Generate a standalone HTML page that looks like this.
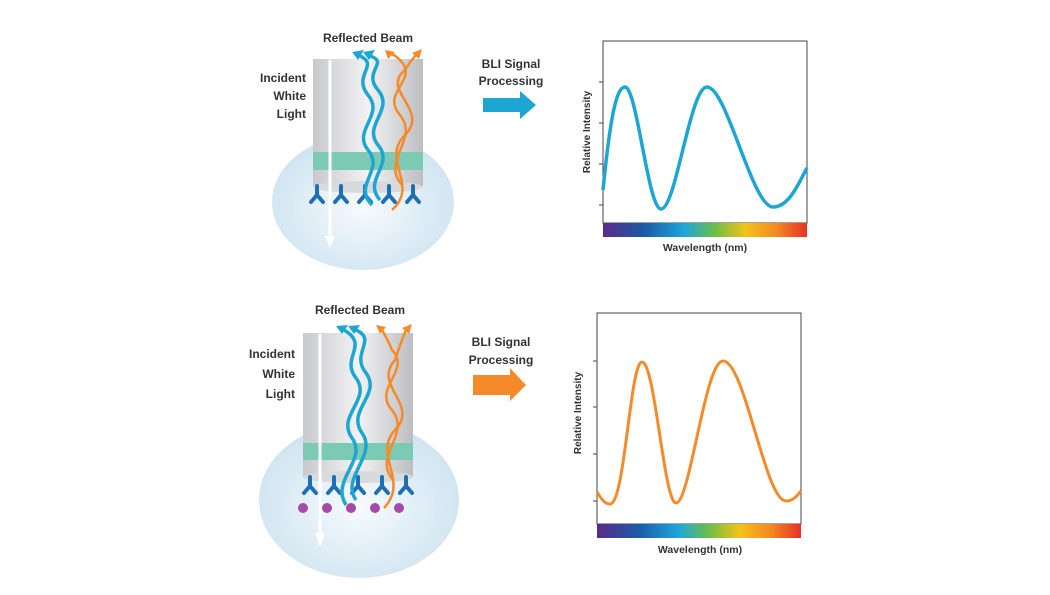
<!DOCTYPE html>
<html><head><style>
body{margin:0;background:#fff}
svg text{font-family:"Liberation Sans",sans-serif;font-weight:bold;fill:#333}
</style></head><body>
<svg width="1050" height="590" viewBox="0 0 1050 590">
<defs>
<linearGradient id="spec" x1="0" x2="1">
<stop offset="0" stop-color="#5b2a8a"/><stop offset="0.2" stop-color="#1b5aa6"/><stop offset="0.4" stop-color="#1ea6dc"/><stop offset="0.55" stop-color="#6cbf45"/><stop offset="0.7" stop-color="#f5c218"/><stop offset="0.85" stop-color="#f38a20"/><stop offset="1" stop-color="#e8302a"/>
</linearGradient>
<radialGradient id="ell" cx="0.5" cy="0.55" r="0.55"><stop offset="0" stop-color="#f6fafd"/><stop offset="1" stop-color="#cfe4f0"/></radialGradient>
<linearGradient id="cyl" x1="0" x2="1"><stop offset="0" stop-color="#c8c9cc"/><stop offset="0.5" stop-color="#f2f2f3"/><stop offset="1" stop-color="#bdbec2"/></linearGradient>
<g id="ab" fill="none" stroke="#1f6fb5" stroke-width="4" stroke-linecap="round"><path d="M0,0 V9 M0,9 L-6,16 M0,9 L6,16"/></g>
</defs>

<!-- TOP ILLUSTRATION -->
<ellipse cx="363" cy="202" rx="91" ry="68" fill="url(#ell)"/>
<rect x="313" y="59" width="110" height="128" fill="url(#cyl)"/>
<rect x="313" y="152" width="110" height="18" fill="#7ccab3"/>
<ellipse cx="368" cy="187" rx="55" ry="6" fill="#d9dadc"/>
<g transform="translate(317,186)"><use href="#ab" x="0"/><use href="#ab" x="24"/><use href="#ab" x="48"/><use href="#ab" x="72"/><use href="#ab" x="96"/></g>
<line x1="330" y1="60" x2="330" y2="238" stroke="#fff" stroke-width="3"/>
<polygon points="325,236 335,236 330,248" fill="#fff"/>
<path d="M372,205 C352,185 385,170 368,150 C352,130 385,115 368,95 C352,75 380,65 360,56" fill="none" stroke="#1ea6d2" stroke-width="3.5"/>
<path d="M380,200 C362,180 395,165 378,145 C362,125 395,110 378,90 C362,72 390,62 370,56" fill="none" stroke="#1ea6d2" stroke-width="3.5"/>
<polygon points="352,52 364,50 358,60" fill="#1ea6d2"/><polygon points="363,52 375,50 369,60" fill="#1ea6d2"/>
<path d="M392,210 C420,185 380,160 405,135 C430,110 380,90 405,70 C410,62 413,58 417,54" fill="none" stroke="#f58a2a" stroke-width="2.5"/>
<path d="M402,185 C380,160 420,140 400,115 C380,92 420,80 400,60 C396,56 393,54 390,54" fill="none" stroke="#f58a2a" stroke-width="2.5"/>
<polygon points="385,50 395,52 388,59" fill="#f58a2a"/><polygon points="422,49 419,59 412,53" fill="#f58a2a"/>
<text x="368" y="42" font-size="12" text-anchor="middle">Reflected Beam</text>
<text x="306" y="82" font-size="12" text-anchor="end">Incident</text>
<text x="306" y="100" font-size="12" text-anchor="end">White</text>
<text x="306" y="118" font-size="12" text-anchor="end">Light</text>
<text x="511" y="68" font-size="12" text-anchor="middle">BLI Signal</text>
<text x="511" y="85" font-size="12" text-anchor="middle">Processing</text>
<polygon points="483,98 520,98 520,91 536,105 520,119 520,112 483,112" fill="#1ea6d2"/>

<!-- TOP CHART -->
<rect x="603" y="41" width="204" height="182" fill="none" stroke="#444" stroke-width="1"/>
<rect x="603" y="223" width="204" height="14" fill="url(#spec)"/>
<g stroke="#444"><line x1="599" y1="82" x2="603" y2="82"/><line x1="599" y1="123" x2="603" y2="123"/><line x1="599" y1="164" x2="603" y2="164"/><line x1="599" y1="205" x2="603" y2="205"/></g>
<path d="M603,190 C610,120 616,87 625,87 C637,87 648,209 661,209 C676,209 690,87 707,87 C727,87 752,207 773,207 C790,207 800,180 807,168" fill="none" stroke="#1ea6d2" stroke-width="3.5"/>
<text transform="translate(590,132) rotate(-90)" font-size="10" text-anchor="middle">Relative Intensity</text>
<text x="705" y="251" font-size="10.5" text-anchor="middle">Wavelength (nm)</text>

<!-- BOTTOM ILLUSTRATION -->
<ellipse cx="359" cy="500" rx="100" ry="78" fill="url(#ell)"/>
<rect x="303" y="333" width="110" height="144" fill="url(#cyl)"/>
<rect x="303" y="443" width="110" height="17" fill="#7ccab3"/>
<ellipse cx="358" cy="477" rx="55" ry="6" fill="#d9dadc"/>
<g transform="translate(310,477)"><use href="#ab" x="0"/><use href="#ab" x="24"/><use href="#ab" x="48"/><use href="#ab" x="72"/><use href="#ab" x="96"/></g>
<g fill="#a64aa8"><circle cx="303" cy="508" r="5"/><circle cx="327" cy="508" r="5"/><circle cx="351" cy="508" r="5"/><circle cx="375" cy="508" r="5"/><circle cx="399" cy="508" r="5"/></g>
<line x1="320" y1="334" x2="320" y2="535" stroke="#fff" stroke-width="3"/>
<polygon points="315,533 325,533 320,547 " fill="#fff"/>
<path d="M346,505 C330,480 368,460 352,438 C336,415 372,400 356,378 C340,358 370,345 344,330" fill="none" stroke="#1ea6d2" stroke-width="3.5"/>
<path d="M356,500 C340,478 378,455 362,433 C346,410 382,395 366,373 C350,353 378,340 356,330" fill="none" stroke="#1ea6d2" stroke-width="3.5"/>
<polygon points="336,326 348,325 342,334" fill="#1ea6d2"/><polygon points="348,326 360,325 354,334" fill="#1ea6d2"/>
<path d="M384,508 C410,480 372,455 395,430 C420,405 372,385 395,360 C400,345 403,337 406,330" fill="none" stroke="#f58a2a" stroke-width="2.5"/>
<path d="M393,480 C372,455 412,435 392,410 C372,388 412,370 392,350 C388,340 385,335 382,330" fill="none" stroke="#f58a2a" stroke-width="2.5"/>
<polygon points="376,325 386,327 380,334" fill="#f58a2a"/><polygon points="412,324 409,334 402,328" fill="#f58a2a"/>
<text x="360" y="314" font-size="12" text-anchor="middle">Reflected Beam</text>
<text x="295" y="358" font-size="12" text-anchor="end">Incident</text>
<text x="295" y="378" font-size="12" text-anchor="end">White</text>
<text x="295" y="398" font-size="12" text-anchor="end">Light</text>
<text x="501" y="346" font-size="12" text-anchor="middle">BLI Signal</text>
<text x="501" y="364" font-size="12" text-anchor="middle">Processing</text>
<polygon points="473,375 510,375 510,368 526,385 510,401 510,395 473,395" fill="#f58a2a"/>

<!-- BOTTOM CHART -->
<rect x="597" y="313" width="204" height="211" fill="none" stroke="#444" stroke-width="1"/>
<rect x="597" y="524" width="204" height="14" fill="url(#spec)"/>
<g stroke="#444"><line x1="593" y1="361" x2="597" y2="361"/><line x1="593" y1="407" x2="597" y2="407"/><line x1="593" y1="454" x2="597" y2="454"/><line x1="593" y1="501" x2="597" y2="501"/></g>
<path d="M597,492 C602,500 605,504 610,504 C625,504 630,362 642,362 C655,362 664,503 676,503 C690,503 705,361 723,361 C745,361 765,501 786,501 C793,501 797,496 801,491" fill="none" stroke="#f58a2a" stroke-width="3"/>
<text transform="translate(581,413) rotate(-90)" font-size="10" text-anchor="middle">Relative Intensity</text>
<text x="700" y="553" font-size="10.5" text-anchor="middle">Wavelength (nm)</text>
</svg>
</body></html>
